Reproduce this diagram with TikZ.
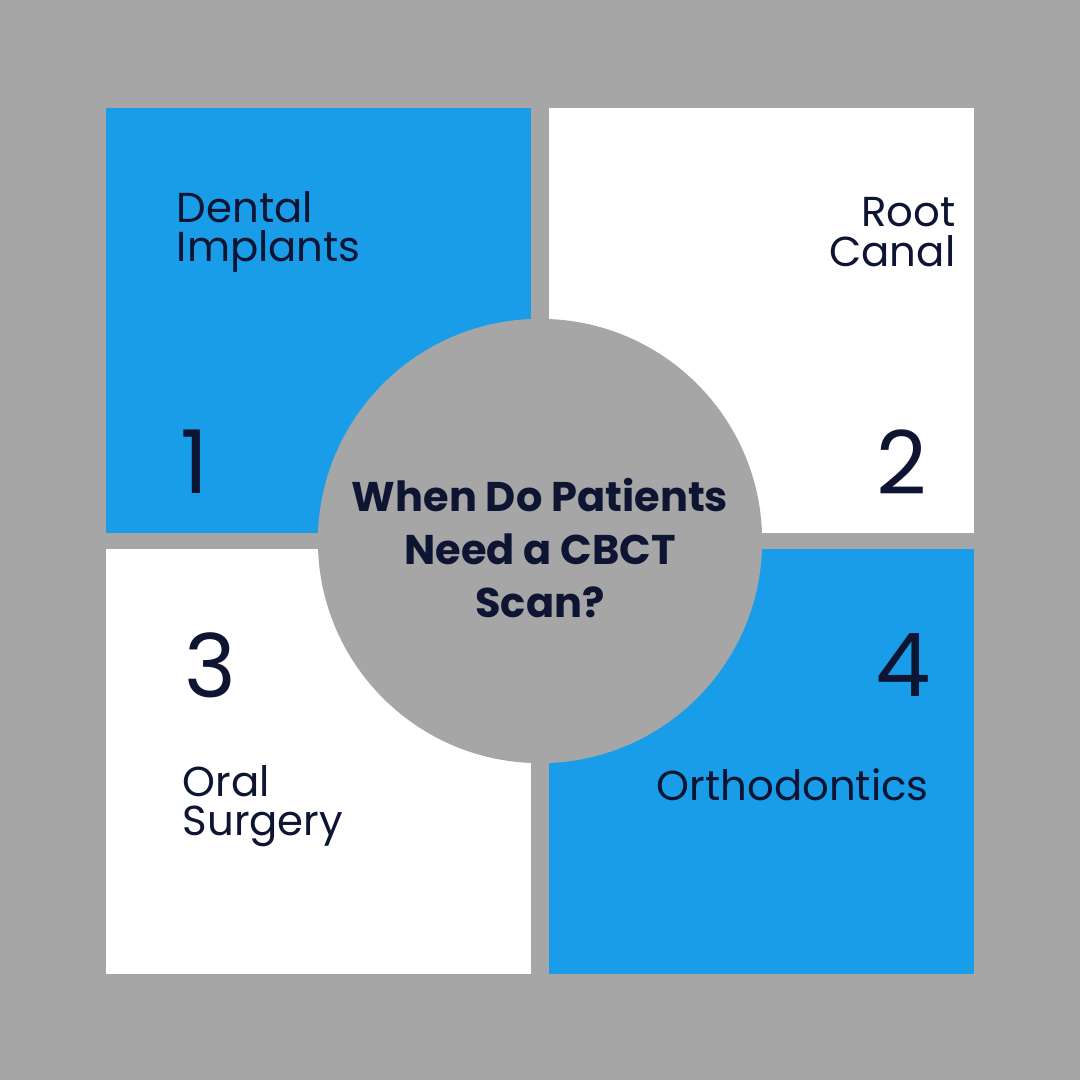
\documentclass[tikz,border=0pt]{standalone}
\usepackage{fontspec}
\setmainfont{Poppins}
\definecolor{bg}{HTML}{A6A6A6}
\definecolor{blu}{HTML}{1A9DE8}
\definecolor{ink}{HTML}{0D1533}
\begin{document}
\begin{tikzpicture}[x=0.01cm,y=-0.01cm,
  lab/.style={text=ink,font=\fontsize{11.9}{11.2}\selectfont,inner sep=0pt,align=left},
  num/.style={text=ink,font=\fontsize{25}{25}\selectfont,inner sep=0pt}]
\fill[bg] (0,0) rectangle (1080,1080);
\useasboundingbox (0,0) rectangle (1080,1080);
\fill[blu] (106,108) rectangle (531,533);
\fill[white] (549,108) rectangle (974,533);
\fill[white] (106,549) rectangle (531,974);
\fill[blu] (549,549) rectangle (974,974);
\node[circle,fill=bg,minimum size=4.44cm,inner sep=0pt] (c) at (540,541) {};
\node[text=ink,font=\bfseries\fontsize{11.8}{15}\selectfont,align=center] (t) at (540,548) {When Do Patients\\Need a CBCT\\Scan?};
\node[lab,anchor=west] (a) at (176,232) {Dental\\Implants};
\node[lab,anchor=east,align=right] (b) at (956,232) {Root\\Canal};
\node[lab,anchor=west] (d) at (182,806) {Oral\\Surgery};
\node[lab,anchor=west] (e) at (656,785) {Orthodontics};
\node[num] (n1) at (195,462) {1};
\node[num] (n2) at (902,462) {2};
\node[num] (n3) at (210,665) {3};
\node[num] (n4) at (903,665) {4};
\end{tikzpicture}
\end{document}
